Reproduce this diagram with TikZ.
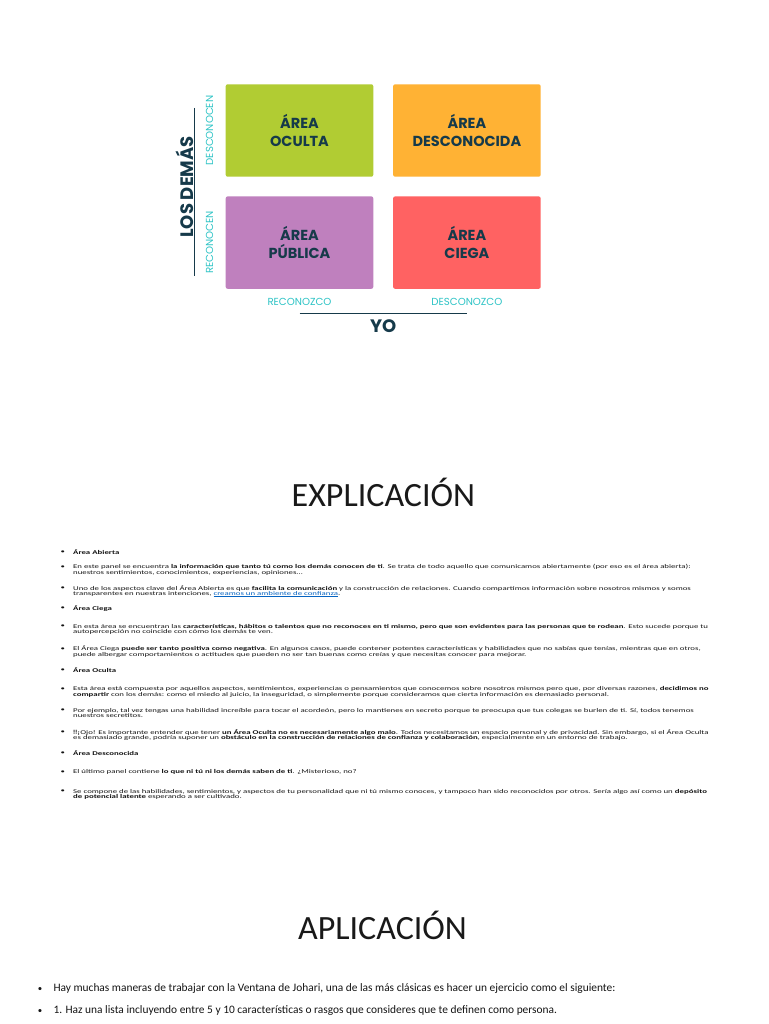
\documentclass[tikz,border=0pt]{standalone}
\usepackage{fontspec}
\setmainfont{Carlito}
\newfontfamily\johfont{Poppins}
\newfontfamily\symfont{DejaVu Sans}
\usepackage{xcolor}
\definecolor{JOHgreen}{HTML}{B1CC33}
\definecolor{JOHorange}{HTML}{FFB234}
\definecolor{JOHpurple}{HTML}{BF80BE}
\definecolor{JOHred}{HTML}{FF6262}
\definecolor{JOHnavy}{HTML}{163A4A}
\definecolor{JOHteal}{HTML}{2EC4C6}
\definecolor{JOHlink}{HTML}{0563C1}
\definecolor{JOHtext}{HTML}{141414}
\usetikzlibrary{positioning}

\begin{document}
\begin{tikzpicture}[x=1pt, y=1pt,
  quad/.style={rounded corners=2pt, minimum width=147.6pt, minimum height=92.4pt,
    inner sep=0pt, align=center, text=JOHnavy,
    font=\johfont\bfseries\fontsize{14.5}{18.3}\selectfont},
  axislbl/.style={text=JOHteal, inner sep=0pt,
    font=\johfont\fontsize{10.2}{12}\selectfont},
  axisttl/.style={text=JOHnavy, inner sep=0pt,
    font=\johfont\bfseries\fontsize{18}{20}\selectfont},
  axisline/.style={JOHnavy, line width=1.6pt},
  heading/.style={text=black!90, inner sep=0pt, anchor=base,
    font=\fontsize{34}{40}\selectfont},
  bodytxt/.style={anchor=west, inner sep=0pt, align=left, text=JOHtext,
    yscale=0.66, transform shape, font=\fontsize{8.8}{8.1}\selectfont},
  dot/.style={inner sep=0pt, text=JOHtext, yscale=0.66, transform shape,
    font=\fontsize{8.8}{8.1}\selectfont},
  bigtxt/.style={anchor=west, inner sep=0pt, text=JOHtext,
    font=\fontsize{11.4}{13}\selectfont}]

\fill[white] (0,0) rectangle (768,-1024);
\useasboundingbox (0,0) rectangle (768,-1024);

\node[quad, fill=JOHgreen] (oculta) at (299.5,-130.5) {ÁREA\\OCULTA};
\node[quad, fill=JOHorange, right=19.4pt of oculta] (desconocida) {ÁREA\\DESCONOCIDA};
\node[quad, fill=JOHpurple, below=19.3pt of oculta] (publica) {ÁREA\\PÚBLICA};
\node[quad, fill=JOHred, below=19.3pt of desconocida] (ciega) {ÁREA\\CIEGA};

\node[axislbl, rotate=90, anchor=south] (desconocen)
  at ([xshift=-12pt]oculta.west) {DESCONOCEN};
\node[axislbl, rotate=90, anchor=south] (reconocen)
  at ([xshift=-12pt]publica.west) {RECONOCEN};
\node[axislbl, below=9pt of publica] (reconozco) {RECONOZCO};
\node[axislbl, below=9pt of ciega] (desconozco) {DESCONOZCO};

\node[axisttl, rotate=90] (demas) at (185,-187) {LOS DEMÁS};
\coordinate (vtop) at (194.3,-108);
\coordinate (vbot) at (194.3,-276);
\draw[axisline] (vtop) -- (vbot);

\coordinate (hleft) at ([yshift=-24.3pt]publica.south);
\coordinate (hright) at ([yshift=-24.3pt]ciega.south);
\draw[axisline] (hleft) -- (hright);
\node[axisttl] (yo) at (383.2,-326) {YO};

\node[heading] (explicacion) at (383.4,-506.7) {EXPLICACIÓN};

\foreach \yy [count=\i] in {552,567.6,588.3,608.3,626.5,648.9,670,689.3,710.6,732.4,752.7,772,791.6}
  \node[dot] (b\i) at (62.7,-\yy) {\textbullet};

\node[bodytxt] (p1) at (73,-552) {\textbf{Área Abierta}};
\node[bodytxt] (p2) at (73,-570) {En este panel se encuentra \textbf{la información que tanto tú como los demás conocen de ti}. Se trata de todo aquello que comunicamos abiertamente (por eso es el área abierta):\\nuestros sentimientos, conocimientos, experiencias, opiniones…};
\node[bodytxt] (p3) at (73,-591) {Uno de los aspectos clave del Área Abierta es que \textbf{facilita la comunicación} y la construcción de relaciones. Cuando compartimos información sobre nosotros mismos y somos\\transparentes en nuestras intenciones, \textcolor{JOHlink}{\underline{creamos un ambiente de confianza}}.};
\node[bodytxt] (p4) at (73,-608.3) {\textbf{Área Ciega}};
\node[bodytxt] (p5) at (73,-629.2) {En esta área se encuentran las \textbf{características, hábitos o talentos que no reconoces en ti mismo, pero que son evidentes para las personas que te rodean}. Esto sucede porque tu\\autopercepción no coincide con cómo los demás te ven.};
\node[bodytxt] (p6) at (73,-651.7) {El Área Ciega \textbf{puede ser tanto positiva como negativa}. En algunos casos, puede contener potentes características y habilidades que no sabías que tenías, mientras que en otros,\\puede albergar comportamientos o actitudes que pueden no ser tan buenas como creías y que necesitas conocer para mejorar.};
\node[bodytxt] (p7) at (73,-670) {\textbf{Área Oculta}};
\node[bodytxt] (p8) at (73,-691.8) {Esta área está compuesta por aquellos aspectos, sentimientos, experiencias o pensamientos que conocemos sobre nosotros mismos pero que, por diversas razones, \textbf{decidimos no}\\\textbf{compartir} con los demás: como el miedo al juicio, la inseguridad, o simplemente porque consideramos que cierta información es demasiado personal.};
\node[bodytxt] (p9) at (73,-713.3) {Por ejemplo, tal vez tengas una habilidad increíble para tocar el acordeón, pero lo mantienes en secreto porque te preocupa que tus colegas se burlen de ti. Sí, todos tenemos\\nuestros secretitos.};
\node[bodytxt] (p10) at (73,-735) {{\symfont ‼}¡Ojo! Es importante entender que tener \textbf{un Área Oculta no es necesariamente algo malo}. Todos necesitamos un espacio personal y de privacidad. Sin embargo, si el Área Oculta\\es demasiado grande, podría suponer un \textbf{obstáculo en la construcción de relaciones de confianza y colaboración}, especialmente en un entorno de trabajo.};
\node[bodytxt] (p11) at (73,-752.7) {\textbf{Área Desconocida}};
\node[bodytxt] (p12) at (73,-772) {El último panel contiene \textbf{lo que ni tú ni los demás saben de ti}. ¿Misterioso, no?};
\node[bodytxt] (p13) at (73,-794.3) {Se compone de las habilidades, sentimientos, y aspectos de tu personalidad que ni tú mismo conoces, y tampoco han sido reconocidos por otros. Sería algo así como un \textbf{depósito}\\\textbf{de potencial latente} esperando a ser cultivado.};

\node[heading] (aplicacion) at (382.5,-939) {APLICACIÓN};

\node[dot, yscale=1.5] (c1) at (40,-989) {\textbullet};
\node[dot, yscale=1.5] (c2) at (40,-1011) {\textbullet};
\node[bigtxt] (q1) at (53.3,-989) {Hay muchas maneras de trabajar con la Ventana de Johari, una de las más clásicas es hacer un ejercicio como el siguiente:};
\node[bigtxt] (q2) at (53.3,-1011) {1. Haz una lista incluyendo entre 5 y 10 características o rasgos que consideres que te definen como persona.};
\end{tikzpicture}
\end{document}
